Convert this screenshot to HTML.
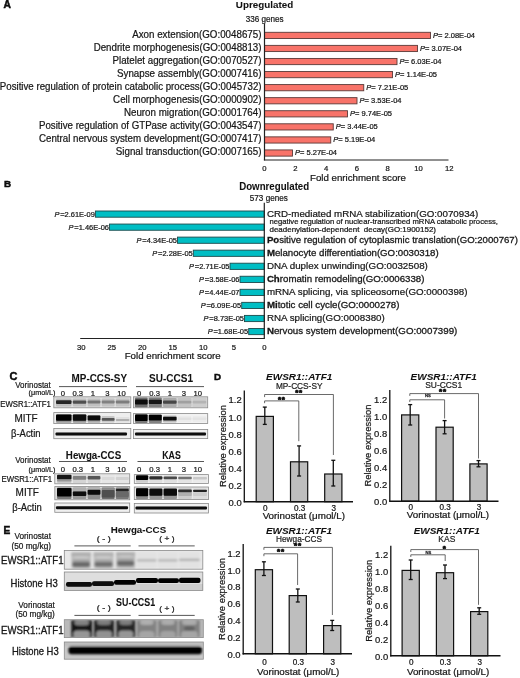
<!DOCTYPE html>
<html><head><meta charset="utf-8"><style>
html,body{margin:0;padding:0;background:#fff;}
svg{display:block;font-family:"Liberation Sans",Arial,sans-serif;}
text{stroke:#222;stroke-width:0.22px;}
text[font-weight="bold"]{stroke-width:0.05px;}
text.hv{stroke-width:0.3px;}
text.ns{stroke-width:0.3px;}
text.pl{stroke-width:0.45px;stroke:#000;}
text.ast{stroke-width:0.7px;stroke:#111;letter-spacing:0.8px;}
</style></head><body>
<svg width="520" height="678" viewBox="0 0 520 678" fill="#111">
<defs><filter id="b55" x="-20%" y="-50%" width="140%" height="200%"><feGaussianBlur stdDeviation="0.55"/></filter><filter id="b70" x="-20%" y="-50%" width="140%" height="200%"><feGaussianBlur stdDeviation="0.7"/></filter><filter id="b80" x="-20%" y="-50%" width="140%" height="200%"><feGaussianBlur stdDeviation="0.8"/></filter><filter id="b110" x="-20%" y="-50%" width="140%" height="200%"><feGaussianBlur stdDeviation="1.1"/></filter></defs>
<text x="3.6" y="7.6" font-size="10.27" font-weight="bold" class="pl">A</text>
<text x="264.5" y="7.9" font-size="9.2" text-anchor="middle" font-weight="bold" textLength="57.3" lengthAdjust="spacingAndGlyphs">Upregulated</text>
<text x="264.6" y="21.7" font-size="8.88" text-anchor="middle" textLength="37.9" lengthAdjust="spacingAndGlyphs">336 genes</text>
<rect x="264.5" y="32.3" width="166.0" height="6.2" fill="#F87369" stroke="#5a3a38" stroke-width="0.9"/>
<text x="261.5" y="37.8" font-size="10.17" text-anchor="end" textLength="129.3" lengthAdjust="spacingAndGlyphs">Axon extension(GO:0048675)</text>
<text x="433.0" y="37.7" font-size="7.3" textLength="42" lengthAdjust="spacingAndGlyphs"><tspan font-style="italic">P</tspan>= 2.08E-04</text>
<rect x="264.5" y="45.37" width="153.0" height="6.2" fill="#F87369" stroke="#5a3a38" stroke-width="0.9"/>
<text x="261.5" y="50.87" font-size="10.17" text-anchor="end" textLength="167.8" lengthAdjust="spacingAndGlyphs">Dendrite morphogenesis(GO:0048813)</text>
<text x="420.0" y="50.8" font-size="7.3" textLength="42" lengthAdjust="spacingAndGlyphs"><tspan font-style="italic">P</tspan>= 3.07E-04</text>
<rect x="264.5" y="58.44" width="132.5" height="6.2" fill="#F87369" stroke="#5a3a38" stroke-width="0.9"/>
<text x="261.5" y="63.94" font-size="10.17" text-anchor="end" textLength="149.0" lengthAdjust="spacingAndGlyphs">Platelet aggregation(GO:0070527)</text>
<text x="399.5" y="63.8" font-size="7.3" textLength="42" lengthAdjust="spacingAndGlyphs"><tspan font-style="italic">P</tspan>= 6.03E-04</text>
<rect x="264.5" y="71.50999999999999" width="128.0" height="6.2" fill="#F87369" stroke="#5a3a38" stroke-width="0.9"/>
<text x="261.5" y="77.01" font-size="10.17" text-anchor="end" textLength="144.5" lengthAdjust="spacingAndGlyphs">Synapse assembly(GO:0007416)</text>
<text x="395.0" y="76.9" font-size="7.3" textLength="42" lengthAdjust="spacingAndGlyphs"><tspan font-style="italic">P</tspan>= 1.14E-05</text>
<rect x="264.5" y="84.58" width="99.25" height="6.2" fill="#F87369" stroke="#5a3a38" stroke-width="0.9"/>
<text x="261.5" y="90.08" font-size="10.17" text-anchor="end" textLength="261.7" lengthAdjust="spacingAndGlyphs">Positive regulation of protein catabolic process(GO:0045732)</text>
<text x="366.25" y="90.0" font-size="7.3" textLength="42" lengthAdjust="spacingAndGlyphs"><tspan font-style="italic">P</tspan>= 7.21E-05</text>
<rect x="264.5" y="97.64999999999999" width="92.5" height="6.2" fill="#F87369" stroke="#5a3a38" stroke-width="0.9"/>
<text x="261.5" y="103.15" font-size="10.17" text-anchor="end" textLength="148.4" lengthAdjust="spacingAndGlyphs">Cell morphogenesis(GO:0000902)</text>
<text x="359.5" y="103.0" font-size="7.3" textLength="42" lengthAdjust="spacingAndGlyphs"><tspan font-style="italic">P</tspan>= 3.53E-04</text>
<rect x="264.5" y="110.72" width="83.0" height="6.2" fill="#F87369" stroke="#5a3a38" stroke-width="0.9"/>
<text x="261.5" y="116.22" font-size="10.17" text-anchor="end" textLength="137.6" lengthAdjust="spacingAndGlyphs">Neuron migration(GO:0001764)</text>
<text x="350.0" y="116.1" font-size="7.3" textLength="42" lengthAdjust="spacingAndGlyphs"><tspan font-style="italic">P</tspan>= 9.74E-05</text>
<rect x="264.5" y="123.79" width="68.75" height="6.2" fill="#F87369" stroke="#5a3a38" stroke-width="0.9"/>
<text x="261.5" y="129.29" font-size="10.17" text-anchor="end" textLength="222.5" lengthAdjust="spacingAndGlyphs">Positive regulation of GTPase activity(GO:0043547)</text>
<text x="335.75" y="129.2" font-size="7.3" textLength="42" lengthAdjust="spacingAndGlyphs"><tspan font-style="italic">P</tspan>= 3.44E-05</text>
<rect x="264.5" y="136.86" width="66.25" height="6.2" fill="#F87369" stroke="#5a3a38" stroke-width="0.9"/>
<text x="261.5" y="142.36" font-size="10.17" text-anchor="end" textLength="222.5" lengthAdjust="spacingAndGlyphs">Central nervous system development(GO:0007417)</text>
<text x="333.25" y="142.3" font-size="7.3" textLength="42" lengthAdjust="spacingAndGlyphs"><tspan font-style="italic">P</tspan>= 5.19E-04</text>
<rect x="264.5" y="149.93" width="28.0" height="6.2" fill="#F87369" stroke="#5a3a38" stroke-width="0.9"/>
<text x="261.5" y="155.43" font-size="10.17" text-anchor="end" textLength="145.7" lengthAdjust="spacingAndGlyphs">Signal transduction(GO:0007165)</text>
<text x="295.0" y="155.3" font-size="7.3" textLength="42" lengthAdjust="spacingAndGlyphs"><tspan font-style="italic">P</tspan>= 5.27E-04</text>
<line x1="264.5" y1="23.5" x2="264.5" y2="160.4" stroke="#222" stroke-width="1.2"/>
<line x1="263.9" y1="160" x2="448.5" y2="160" stroke="#222" stroke-width="1.2"/>
<text x="264.5" y="171.3" font-size="7.7" text-anchor="middle">0</text>
<text x="295.3" y="171.3" font-size="7.7" text-anchor="middle">2</text>
<text x="326.1" y="171.3" font-size="7.7" text-anchor="middle">4</text>
<text x="356.9" y="171.3" font-size="7.7" text-anchor="middle">6</text>
<text x="387.7" y="171.3" font-size="7.7" text-anchor="middle">8</text>
<text x="418.5" y="171.3" font-size="7.7" text-anchor="middle">10</text>
<text x="449.3" y="171.3" font-size="7.7" text-anchor="middle">12</text>
<text x="358" y="181.1" font-size="9.63" text-anchor="middle" textLength="96" lengthAdjust="spacingAndGlyphs">Fold enrichment score</text>
<text x="4.0" y="187.0" font-size="9.84" font-weight="bold" class="pl">B</text>
<text x="274.2" y="190.1" font-size="10.17" text-anchor="middle" font-weight="bold" textLength="70" lengthAdjust="spacingAndGlyphs">Downregulated</text>
<text x="268.8" y="201.1" font-size="8.88" text-anchor="middle" textLength="37.9" lengthAdjust="spacingAndGlyphs">573 genes</text>
<rect x="95.4" y="211.0" width="168.9" height="6.2" fill="#00BEC4" stroke="#1c4a4c" stroke-width="0.9"/>
<text x="94.9" y="216.8" font-size="7.3" text-anchor="end" textLength="40.5" lengthAdjust="spacingAndGlyphs"><tspan font-style="italic">P</tspan><tspan dx="0.8">=2.61E-09</tspan></text>
<rect x="109.5" y="224.05" width="154.8" height="6.2" fill="#00BEC4" stroke="#1c4a4c" stroke-width="0.9"/>
<text x="109.0" y="229.9" font-size="7.3" text-anchor="end" textLength="40.5" lengthAdjust="spacingAndGlyphs"><tspan font-style="italic">P</tspan><tspan dx="0.8">=1.46E-06</tspan></text>
<rect x="177.5" y="237.1" width="86.80000000000001" height="6.2" fill="#00BEC4" stroke="#1c4a4c" stroke-width="0.9"/>
<text x="177.0" y="242.9" font-size="7.3" text-anchor="end" textLength="40.5" lengthAdjust="spacingAndGlyphs"><tspan font-style="italic">P</tspan><tspan dx="0.8">=4.34E-05</tspan></text>
<rect x="193.3" y="250.15" width="71.0" height="6.2" fill="#00BEC4" stroke="#1c4a4c" stroke-width="0.9"/>
<text x="192.8" y="256.0" font-size="7.3" text-anchor="end" textLength="40.5" lengthAdjust="spacingAndGlyphs"><tspan font-style="italic">P</tspan><tspan dx="0.8">=2.28E-05</tspan></text>
<rect x="230" y="263.2" width="34.30000000000001" height="6.2" fill="#00BEC4" stroke="#1c4a4c" stroke-width="0.9"/>
<text x="229.5" y="269.0" font-size="7.3" text-anchor="end" textLength="40.5" lengthAdjust="spacingAndGlyphs"><tspan font-style="italic">P</tspan><tspan dx="0.8">=2.71E-05</tspan></text>
<rect x="240" y="276.25" width="24.30000000000001" height="6.2" fill="#00BEC4" stroke="#1c4a4c" stroke-width="0.9"/>
<text x="239.5" y="282.1" font-size="7.3" text-anchor="end" textLength="40.5" lengthAdjust="spacingAndGlyphs"><tspan font-style="italic">P</tspan><tspan dx="0.8">=3.58E-06</tspan></text>
<rect x="240" y="289.3" width="24.30000000000001" height="6.2" fill="#00BEC4" stroke="#1c4a4c" stroke-width="0.9"/>
<text x="239.5" y="295.1" font-size="7.3" text-anchor="end" textLength="40.5" lengthAdjust="spacingAndGlyphs"><tspan font-style="italic">P</tspan><tspan dx="0.8">=4.44E-07</tspan></text>
<rect x="241.7" y="302.35" width="22.600000000000023" height="6.2" fill="#00BEC4" stroke="#1c4a4c" stroke-width="0.9"/>
<text x="241.2" y="308.2" font-size="7.3" text-anchor="end" textLength="40.5" lengthAdjust="spacingAndGlyphs"><tspan font-style="italic">P</tspan><tspan dx="0.8">=6.09E-05</tspan></text>
<rect x="244.5" y="315.4" width="19.80000000000001" height="6.2" fill="#00BEC4" stroke="#1c4a4c" stroke-width="0.9"/>
<text x="244.0" y="321.2" font-size="7.3" text-anchor="end" textLength="40.5" lengthAdjust="spacingAndGlyphs"><tspan font-style="italic">P</tspan><tspan dx="0.8">=8.73E-05</tspan></text>
<rect x="248.7" y="328.45" width="15.600000000000023" height="6.2" fill="#00BEC4" stroke="#1c4a4c" stroke-width="0.9"/>
<text x="248.2" y="334.2" font-size="7.3" text-anchor="end" textLength="40.5" lengthAdjust="spacingAndGlyphs"><tspan font-style="italic">P</tspan><tspan dx="0.8">=1.68E-05</tspan></text>
<text x="266.9" y="217.2" font-size="9.9" textLength="211.4" lengthAdjust="spacingAndGlyphs"><tspan>CRD-mediated mRNA stabilization(GO:0070934)</tspan></text>
<text x="266.9" y="243.2" font-size="9.9" class="hv" textLength="251" lengthAdjust="spacingAndGlyphs"><tspan font-weight="bold">Po</tspan>sitive regulation of cytoplasmic translation(GO:2000767)</text>
<text x="266.9" y="256.2" font-size="9.9" class="hv" textLength="171.8" lengthAdjust="spacingAndGlyphs"><tspan font-weight="bold">M</tspan>elanocyte differentiation(GO:0030318)</text>
<text x="266.9" y="269.2" font-size="9.9" textLength="161" lengthAdjust="spacingAndGlyphs">DNA duplex unwinding(GO:0032508)</text>
<text x="266.9" y="282.2" font-size="9.9" class="hv" textLength="157.5" lengthAdjust="spacingAndGlyphs"><tspan font-weight="bold">Ch</tspan>romatin remodeling(GO:0006338)</text>
<text x="266.9" y="295.2" font-size="9.9" textLength="200.6" lengthAdjust="spacingAndGlyphs">mRNA splicing, via spliceosome(GO:0000398)</text>
<text x="266.9" y="308.2" font-size="9.9" class="hv" textLength="132.5" lengthAdjust="spacingAndGlyphs"><tspan font-weight="bold">Mi</tspan>totic cell cycle(GO:0000278)</text>
<text x="266.9" y="321.2" font-size="9.9" textLength="117.9" lengthAdjust="spacingAndGlyphs">RNA splicing(GO:0008380)</text>
<text x="266.9" y="334.2" font-size="9.9" class="hv" textLength="190.4" lengthAdjust="spacingAndGlyphs"><tspan font-weight="bold">N</tspan>ervous system development(GO:0007399)</text>
<text x="269.5" y="224.4" font-size="7.49" textLength="228.5" lengthAdjust="spacingAndGlyphs">negative regulation of nuclear-transcribed mRNA catabolic process,</text>
<text x="269.5" y="231.6" font-size="7.49" textLength="166.5" lengthAdjust="spacingAndGlyphs">deadenylation-dependent&#160; decay(GO:1900152)</text>
<line x1="264.3" y1="202.8" x2="264.3" y2="338.5" stroke="#222" stroke-width="1.2"/>
<line x1="80.2" y1="338.5" x2="264.90000000000003" y2="338.5" stroke="#222" stroke-width="1.2"/>
<text x="81.3" y="349.7" font-size="7.7" text-anchor="middle">30</text>
<text x="111.8" y="349.7" font-size="7.7" text-anchor="middle">25</text>
<text x="142.3" y="349.7" font-size="7.7" text-anchor="middle">20</text>
<text x="172.8" y="349.7" font-size="7.7" text-anchor="middle">15</text>
<text x="203.3" y="349.7" font-size="7.7" text-anchor="middle">10</text>
<text x="233.8" y="349.7" font-size="7.7" text-anchor="middle">5</text>
<text x="264.3" y="349.7" font-size="7.7" text-anchor="middle">0</text>
<text x="172.7" y="358.6" font-size="9.63" text-anchor="middle" textLength="96" lengthAdjust="spacingAndGlyphs">Fold enrichment score</text>
<text x="9.6" y="379.6" font-size="11.02" font-weight="bold" class="pl">C</text>
<text x="15.2" y="387.7" font-size="9.63" textLength="35.6" lengthAdjust="spacingAndGlyphs">Vorinostat</text>
<text x="28.6" y="395.3" font-size="7.49" textLength="26.8" lengthAdjust="spacingAndGlyphs">(&#956;mol/L)</text>
<text x="15.2" y="462.7" font-size="9.63" textLength="35.6" lengthAdjust="spacingAndGlyphs">Vorinostat</text>
<text x="28.6" y="471.7" font-size="7.49" textLength="26.8" lengthAdjust="spacingAndGlyphs">(&#956;mol/L)</text>
<text x="62.8" y="395.9" font-size="7.7" text-anchor="middle">0</text>
<text x="77.8" y="395.9" font-size="7.7" text-anchor="middle">0.3</text>
<text x="93" y="395.9" font-size="7.7" text-anchor="middle">1</text>
<text x="107.3" y="395.9" font-size="7.7" text-anchor="middle">3</text>
<text x="121.5" y="395.9" font-size="7.7" text-anchor="middle">10</text>
<text x="139.2" y="395.9" font-size="7.7" text-anchor="middle">0</text>
<text x="154.6" y="395.9" font-size="7.7" text-anchor="middle">0.3</text>
<text x="170" y="395.9" font-size="7.7" text-anchor="middle">1</text>
<text x="183.8" y="395.9" font-size="7.7" text-anchor="middle">3</text>
<text x="197.7" y="395.9" font-size="7.7" text-anchor="middle">10</text>
<text x="62.8" y="472.1" font-size="7.7" text-anchor="middle">0</text>
<text x="77.8" y="472.1" font-size="7.7" text-anchor="middle">0.3</text>
<text x="93" y="472.1" font-size="7.7" text-anchor="middle">1</text>
<text x="107.3" y="472.1" font-size="7.7" text-anchor="middle">3</text>
<text x="121.5" y="472.1" font-size="7.7" text-anchor="middle">10</text>
<text x="139.2" y="472.1" font-size="7.7" text-anchor="middle">0</text>
<text x="154.6" y="472.1" font-size="7.7" text-anchor="middle">0.3</text>
<text x="170" y="472.1" font-size="7.7" text-anchor="middle">1</text>
<text x="183.8" y="472.1" font-size="7.7" text-anchor="middle">3</text>
<text x="197.7" y="472.1" font-size="7.7" text-anchor="middle">10</text>
<text x="99.3" y="382.2" font-size="10.06" text-anchor="middle" font-weight="bold" textLength="55.4" lengthAdjust="spacingAndGlyphs">MP-CCS-SY</text>
<text x="171" y="382.2" font-size="10.06" text-anchor="middle" font-weight="bold" textLength="44" lengthAdjust="spacingAndGlyphs">SU-CCS1</text>
<line x1="59" y1="386.6" x2="127" y2="386.6" stroke="#444" stroke-width="0.9"/>
<line x1="136" y1="386.6" x2="204" y2="386.6" stroke="#444" stroke-width="0.9"/>
<text x="93.5" y="458.7" font-size="10.06" text-anchor="middle" font-weight="bold" textLength="55.3" lengthAdjust="spacingAndGlyphs">Hewga-CCS</text>
<text x="171.5" y="458.7" font-size="10.06" text-anchor="middle" font-weight="bold" textLength="18.5" lengthAdjust="spacingAndGlyphs">KAS</text>
<line x1="59" y1="461.5" x2="127" y2="461.5" stroke="#444" stroke-width="0.9"/>
<line x1="137.5" y1="461.5" x2="204" y2="461.5" stroke="#444" stroke-width="0.9"/>
<text x="0.3" y="406.7" font-size="8.56" textLength="50.5" lengthAdjust="spacingAndGlyphs">EWSR1::ATF1</text>
<text x="14.4" y="421.7" font-size="11.24" textLength="23.3" lengthAdjust="spacingAndGlyphs">MITF</text>
<text x="11" y="436.7" font-size="10.7" textLength="29.6" lengthAdjust="spacingAndGlyphs">&#946;-Actin</text>
<text x="1.5" y="482.0" font-size="8.56" textLength="50.5" lengthAdjust="spacingAndGlyphs">EWSR1::ATF1</text>
<text x="15.6" y="496.2" font-size="11.24" textLength="23.3" lengthAdjust="spacingAndGlyphs">MITF</text>
<text x="12.2" y="511.2" font-size="10.7" textLength="29.6" lengthAdjust="spacingAndGlyphs">&#946;-Actin</text>
<clipPath id="c1"><rect x="53.8" y="396.8" width="77.0" height="11.0"/></clipPath>
<g clip-path="url(#c1)"><rect x="53.8" y="396.8" width="77.0" height="11.0" fill="#dedede"/>
<g filter="url(#b55)">
<rect x="56.0" y="398.5" width="15.5" height="8.0" rx="1" fill="#bebebe"/>
<rect x="56.0" y="400.2" width="15.5" height="3.8" rx="1" fill="#282828"/>
<rect x="72.8" y="398.5" width="13.5" height="8.0" rx="1" fill="#c0c0c0"/>
<rect x="72.8" y="400.4" width="13.5" height="3.4" rx="1" fill="#505050"/>
<rect x="87.6" y="398.5" width="12.8" height="8.0" rx="1" fill="#c0c0c0"/>
<rect x="87.6" y="400.5" width="12.8" height="3.1" rx="1" fill="#767676"/>
<rect x="101.7" y="398.5" width="12.9" height="8.0" rx="1" fill="#c2c2c2"/>
<rect x="101.7" y="400.5" width="12.9" height="3.1" rx="1" fill="#828282"/>
<rect x="115.8" y="398.5" width="13.7" height="8.0" rx="1" fill="#c2c2c2"/>
<rect x="115.8" y="400.5" width="13.7" height="3.1" rx="1" fill="#7d7d7d"/>
</g></g>
<rect x="53.8" y="396.8" width="77.0" height="11.0" fill="none" stroke="#888" stroke-width="0.8"/>
<clipPath id="c2"><rect x="53.8" y="412.6" width="77.0" height="11.0"/></clipPath>
<g clip-path="url(#c2)"><rect x="53.8" y="412.6" width="77.0" height="11.0" fill="#eeeeee"/>
<g filter="url(#b55)">
<rect x="56.0" y="414.3" width="15.5" height="8.5" rx="1" fill="#969696"/>
<rect x="56.0" y="414.6" width="15.5" height="6.2" rx="1" fill="#050505"/>
<rect x="72.8" y="414.3" width="13.5" height="8.5" rx="1" fill="#969696"/>
<rect x="72.8" y="414.6" width="13.5" height="6.2" rx="1" fill="#080808"/>
<rect x="87.6" y="415.0" width="12.8" height="7.8" rx="1" fill="#aaaaaa"/>
<rect x="87.6" y="415.5" width="12.8" height="5.1" rx="1" fill="#0f0f0f"/>
<rect x="101.7" y="416.0" width="12.9" height="6.5" rx="1" fill="#c8c8c8"/>
<rect x="101.7" y="418.0" width="12.9" height="2.8" rx="1" fill="#555555"/>
<rect x="115.8" y="417.0" width="13.7" height="5.5" rx="1" fill="#e1e1e1"/>
<rect x="115.8" y="419.0" width="13.7" height="2.0" rx="1" fill="#afafaf"/>
</g></g>
<rect x="53.8" y="412.6" width="77.0" height="11.0" fill="none" stroke="#888" stroke-width="0.8"/>
<clipPath id="c3"><rect x="53.8" y="428.5" width="77.0" height="10.2"/></clipPath>
<g clip-path="url(#c3)"><rect x="53.8" y="428.5" width="77.0" height="10.2" fill="#eeeeee"/>
<g filter="url(#b55)">
<rect x="55.5" y="432.4" width="71.5" height="3.2" rx="1" fill="#0c0c0c"/>
</g></g>
<rect x="53.8" y="428.5" width="77.0" height="10.2" fill="none" stroke="#888" stroke-width="0.8"/>
<clipPath id="c4"><rect x="133.4" y="396.8" width="74.3" height="11.0"/></clipPath>
<g clip-path="url(#c4)"><rect x="133.4" y="396.8" width="74.3" height="11.0" fill="#d7d7d7"/>
<g filter="url(#b55)">
<rect x="135.0" y="397.5" width="12.6" height="10.0" rx="1" fill="#6e6e6e"/>
<rect x="135.0" y="399.6" width="12.6" height="4.8" rx="1" fill="#0a0a0a"/>
<rect x="148.8" y="397.5" width="13.0" height="10.0" rx="1" fill="#7d7d7d"/>
<rect x="148.8" y="399.8" width="13.0" height="4.2" rx="1" fill="#141414"/>
<rect x="163.0" y="398.0" width="13.6" height="9.0" rx="1" fill="#aaaaaa"/>
<rect x="163.0" y="400.6" width="13.6" height="3.2" rx="1" fill="#464646"/>
<rect x="177.8" y="398.0" width="13.6" height="9.0" rx="1" fill="#c3c3c3"/>
<rect x="177.8" y="400.8" width="13.6" height="2.8" rx="1" fill="#a0a0a0"/>
<rect x="192.6" y="398.0" width="13.7" height="9.0" rx="1" fill="#cdcdcd"/>
<rect x="192.6" y="400.8" width="13.7" height="2.8" rx="1" fill="#b4b4b4"/>
</g></g>
<rect x="133.4" y="396.8" width="74.3" height="11.0" fill="none" stroke="#888" stroke-width="0.8"/>
<clipPath id="c5"><rect x="133.4" y="413.6" width="74.3" height="9.8"/></clipPath>
<g clip-path="url(#c5)"><rect x="133.4" y="413.6" width="74.3" height="9.8" fill="#f2f2f2"/>
<g filter="url(#b55)">
<rect x="135.0" y="414.2" width="12.6" height="8.8" rx="1" fill="#787878"/>
<rect x="135.0" y="414.4" width="12.6" height="6.6" rx="1" fill="#030303"/>
<rect x="148.8" y="414.4" width="13.0" height="8.6" rx="1" fill="#828282"/>
<rect x="148.8" y="414.8" width="13.0" height="5.7" rx="1" fill="#060606"/>
<rect x="163.0" y="415.5" width="13.6" height="7.0" rx="1" fill="#bebebe"/>
<rect x="163.0" y="416.8" width="13.6" height="3.8" rx="1" fill="#0c0c0c"/>
<rect x="177.8" y="416.0" width="13.6" height="6.0" rx="1" fill="#ececec"/>
<rect x="177.8" y="417.5" width="13.6" height="2.5" rx="1" fill="#e1e1e1"/>
<rect x="192.6" y="416.0" width="13.7" height="6.0" rx="1" fill="#ececec"/>
<rect x="192.6" y="417.5" width="13.7" height="2.5" rx="1" fill="#e4e4e4"/>
</g></g>
<rect x="133.4" y="413.6" width="74.3" height="9.8" fill="none" stroke="#888" stroke-width="0.8"/>
<clipPath id="c6"><rect x="133.4" y="429.4" width="74.3" height="9.2"/></clipPath>
<g clip-path="url(#c6)"><rect x="133.4" y="429.4" width="74.3" height="9.2" fill="#f0f0f0"/>
<g filter="url(#b55)">
<rect x="135.0" y="432.4" width="71.0" height="3.2" rx="1" fill="#0a0a0a"/>
</g></g>
<rect x="133.4" y="429.4" width="74.3" height="9.2" fill="none" stroke="#888" stroke-width="0.8"/>
<clipPath id="c7"><rect x="54.8" y="473.8" width="74.9" height="10.0"/></clipPath>
<g clip-path="url(#c7)"><rect x="54.8" y="473.8" width="74.9" height="10.0" fill="#ececec"/>
<g filter="url(#b55)">
<rect x="57.0" y="474.5" width="14.5" height="8.5" rx="1" fill="#c8c8c8"/>
<rect x="57.0" y="474.8" width="14.5" height="4.6" rx="1" fill="#141414"/>
<rect x="57.0" y="479.4" width="14.5" height="2.1" rx="1" fill="#969696"/>
<rect x="72.8" y="474.5" width="13.5" height="8.5" rx="1" fill="#d4d4d4"/>
<rect x="72.8" y="476.0" width="13.5" height="3.8" rx="1" fill="#808080"/>
<rect x="87.6" y="474.5" width="12.8" height="8.5" rx="1" fill="#d4d4d4"/>
<rect x="87.6" y="476.0" width="12.8" height="3.4" rx="1" fill="#555555"/>
<rect x="101.7" y="474.5" width="12.9" height="8.5" rx="1" fill="#e6e6e6"/>
<rect x="101.7" y="477.0" width="12.9" height="3.0" rx="1" fill="#dadada"/>
<rect x="115.8" y="474.5" width="13.0" height="8.5" rx="1" fill="#e6e6e6"/>
<rect x="115.8" y="477.0" width="13.0" height="3.0" rx="1" fill="#d2d2d2"/>
</g></g>
<rect x="54.8" y="473.8" width="74.9" height="10.0" fill="none" stroke="#888" stroke-width="0.8"/>
<clipPath id="c8"><rect x="54.8" y="486.6" width="74.9" height="13.2"/></clipPath>
<g clip-path="url(#c8)"><rect x="54.8" y="486.6" width="74.9" height="13.2" fill="#dadada"/>
<g filter="url(#b70)">
<rect x="57.0" y="487.5" width="14.5" height="11.5" rx="1" fill="#787878"/>
<rect x="57.0" y="488.0" width="14.5" height="8.5" rx="1" fill="#050505"/>
<rect x="72.8" y="487.5" width="13.5" height="11.5" rx="1" fill="#969696"/>
<rect x="72.8" y="488.0" width="13.5" height="3.0" rx="1" fill="#afafaf"/>
<rect x="72.8" y="491.5" width="13.5" height="4.5" rx="1" fill="#0c0c0c"/>
<rect x="87.6" y="487.5" width="12.8" height="11.5" rx="1" fill="#8c8c8c"/>
<rect x="87.6" y="488.0" width="12.8" height="2.0" rx="1" fill="#b4b4b4"/>
<rect x="87.6" y="489.8" width="12.8" height="5.0" rx="1" fill="#0a0a0a"/>
<rect x="101.7" y="487.5" width="12.9" height="11.5" rx="1" fill="#6e6e6e"/>
<rect x="101.7" y="488.0" width="12.9" height="2.0" rx="1" fill="#8c8c8c"/>
<rect x="101.7" y="490.0" width="12.9" height="7.5" rx="1" fill="#505050"/>
<rect x="115.8" y="487.5" width="13.0" height="11.5" rx="1" fill="#787878"/>
<rect x="115.8" y="489.0" width="13.0" height="2.2" rx="1" fill="#232323"/>
<rect x="115.8" y="492.0" width="13.0" height="5.0" rx="1" fill="#696969"/>
</g></g>
<rect x="54.8" y="486.6" width="74.9" height="13.2" fill="none" stroke="#888" stroke-width="0.8"/>
<clipPath id="c9"><rect x="54.8" y="503" width="74.9" height="9.3"/></clipPath>
<g clip-path="url(#c9)"><rect x="54.8" y="503" width="74.9" height="9.3" fill="#f0f0f0"/>
<g filter="url(#b55)">
<rect x="56.0" y="506.2" width="72.0" height="3.0" rx="1" fill="#0c0c0c"/>
</g></g>
<rect x="54.8" y="503" width="74.9" height="9.3" fill="none" stroke="#888" stroke-width="0.8"/>
<clipPath id="c10"><rect x="134.3" y="474.6" width="74.2" height="8.8"/></clipPath>
<g clip-path="url(#c10)"><rect x="134.3" y="474.6" width="74.2" height="8.8" fill="#f0f0f0"/>
<g filter="url(#b55)">
<rect x="136.0" y="475.2" width="12.2" height="7.6" rx="1" fill="#cdcdcd"/>
<rect x="136.0" y="475.2" width="12.2" height="4.8" rx="1" fill="#050505"/>
<rect x="149.4" y="475.2" width="13.0" height="7.6" rx="1" fill="#dedede"/>
<rect x="149.4" y="476.2" width="13.0" height="3.2" rx="1" fill="#2d2d2d"/>
<rect x="163.6" y="475.2" width="13.4" height="7.6" rx="1" fill="#e0e0e0"/>
<rect x="163.6" y="476.4" width="13.4" height="2.8" rx="1" fill="#4b4b4b"/>
<rect x="178.2" y="475.2" width="13.6" height="7.6" rx="1" fill="#e4e4e4"/>
<rect x="178.2" y="476.8" width="13.6" height="2.4" rx="1" fill="#737373"/>
<rect x="193.0" y="475.2" width="14.0" height="7.6" rx="1" fill="#eaeaea"/>
<rect x="193.0" y="477.0" width="14.0" height="2.4" rx="1" fill="#c8c8c8"/>
</g></g>
<rect x="134.3" y="474.6" width="74.2" height="8.8" fill="none" stroke="#888" stroke-width="0.8"/>
<clipPath id="c11"><rect x="134.3" y="487" width="74.2" height="12.6"/></clipPath>
<g clip-path="url(#c11)"><rect x="134.3" y="487" width="74.2" height="12.6" fill="#e8e8e8"/>
<g filter="url(#b70)">
<rect x="136.0" y="488.0" width="12.2" height="11.0" rx="1" fill="#8c8c8c"/>
<rect x="136.0" y="488.3" width="12.2" height="7.9" rx="1" fill="#050505"/>
<rect x="149.4" y="488.0" width="13.0" height="11.0" rx="1" fill="#969696"/>
<rect x="149.4" y="488.8" width="13.0" height="7.0" rx="1" fill="#0a0a0a"/>
<rect x="163.6" y="488.0" width="13.4" height="11.0" rx="1" fill="#969696"/>
<rect x="163.6" y="488.8" width="13.4" height="7.0" rx="1" fill="#080808"/>
<rect x="178.2" y="488.0" width="13.6" height="11.0" rx="1" fill="#cdcdcd"/>
<rect x="178.2" y="489.6" width="13.6" height="2.8" rx="1" fill="#2d2d2d"/>
<rect x="178.2" y="492.4" width="13.6" height="3.6" rx="1" fill="#afafaf"/>
<rect x="193.0" y="488.0" width="14.0" height="11.0" rx="1" fill="#dedede"/>
<rect x="193.0" y="489.8" width="14.0" height="2.2" rx="1" fill="#232323"/>
<rect x="193.0" y="492.2" width="14.0" height="3.8" rx="1" fill="#cdcdcd"/>
</g></g>
<rect x="134.3" y="487" width="74.2" height="12.6" fill="none" stroke="#888" stroke-width="0.8"/>
<clipPath id="c12"><rect x="134.3" y="503.5" width="74.2" height="9.5"/></clipPath>
<g clip-path="url(#c12)"><rect x="134.3" y="503.5" width="74.2" height="9.5" fill="#f0f0f0"/>
<g filter="url(#b55)">
<rect x="135.5" y="506.4" width="71.5" height="3.0" rx="1" fill="#0a0a0a"/>
</g></g>
<rect x="134.3" y="503.5" width="74.2" height="9.5" fill="none" stroke="#888" stroke-width="0.8"/>
<text x="3.6" y="533.7" font-size="10.17" font-weight="bold" class="pl">E</text>
<text x="14.4" y="539.1" font-size="9.63" textLength="36.6" lengthAdjust="spacingAndGlyphs">Vorinostat</text>
<text x="11.5" y="549.2" font-size="8.77" textLength="39.5" lengthAdjust="spacingAndGlyphs">(50 mg/kg)</text>
<text x="18.3" y="607.5" font-size="9.63" textLength="36.5" lengthAdjust="spacingAndGlyphs">Vorinostat</text>
<text x="15.4" y="617.1" font-size="8.77" textLength="39.4" lengthAdjust="spacingAndGlyphs">(50 mg/kg)</text>
<text x="138.5" y="532.5" font-size="9.84" text-anchor="middle" font-weight="bold" textLength="55.4" lengthAdjust="spacingAndGlyphs">Hewga-CCS</text>
<text x="135.6" y="606.1" font-size="10.06" text-anchor="middle" font-weight="bold" textLength="39" lengthAdjust="spacingAndGlyphs">SU-CCS1</text>
<text x="103.8" y="541.0" font-size="7.49" text-anchor="middle" textLength="14" lengthAdjust="spacingAndGlyphs">( - )</text>
<text x="166.9" y="541.0" font-size="7.49" text-anchor="middle" textLength="15.2" lengthAdjust="spacingAndGlyphs">( + )</text>
<text x="103.8" y="609.9" font-size="7.49" text-anchor="middle" textLength="14" lengthAdjust="spacingAndGlyphs">( - )</text>
<text x="166.9" y="610.5" font-size="7.49" text-anchor="middle" textLength="15.2" lengthAdjust="spacingAndGlyphs">( + )</text>
<line x1="74.4" y1="545.9" x2="130.7" y2="545.9" stroke="#444" stroke-width="0.9"/>
<line x1="138.5" y1="545.9" x2="194.7" y2="545.9" stroke="#444" stroke-width="0.9"/>
<line x1="74.4" y1="615.4" x2="130.7" y2="615.4" stroke="#444" stroke-width="0.9"/>
<line x1="138.5" y1="615.4" x2="194.7" y2="615.4" stroke="#444" stroke-width="0.9"/>
<text x="1" y="564.3" font-size="10.27" textLength="62.5" lengthAdjust="spacingAndGlyphs" class="hv">EWSR1::ATF1</text>
<text x="10.6" y="586.5" font-size="10.27" textLength="47.1" lengthAdjust="spacingAndGlyphs" class="hv">Histone H3</text>
<text x="1" y="633.7" font-size="10.27" textLength="62.5" lengthAdjust="spacingAndGlyphs" class="hv">EWSR1::ATF1</text>
<text x="12" y="654.9" font-size="10.27" textLength="46.7" lengthAdjust="spacingAndGlyphs" class="hv">Histone H3</text>
<clipPath id="c13"><rect x="64.3" y="550.5" width="138.5" height="18.7"/></clipPath>
<g clip-path="url(#c13)"><rect x="64.3" y="550.5" width="138.5" height="18.7" fill="#e8e8e8"/>
<g filter="url(#b80)">
<rect x="71.3" y="552.0" width="19.7" height="16.5" rx="1" fill="#bebebe"/>
<rect x="71.3" y="553.0" width="19.7" height="3.0" rx="1" fill="#afafaf"/>
<rect x="74.3" y="556.0" width="13.7" height="4.0" rx="3" fill="#c8c8c8"/>
<rect x="72.3" y="559.0" width="17.7" height="9.0" rx="3" fill="#a5a5a5"/>
<rect x="72.3" y="562.0" width="17.7" height="4.8" rx="2" fill="#696969"/>
<rect x="93.5" y="552.0" width="20.1" height="16.5" rx="1" fill="#c0c0c0"/>
<rect x="93.5" y="553.0" width="20.1" height="3.0" rx="1" fill="#b2b2b2"/>
<rect x="96.5" y="556.0" width="14.1" height="4.0" rx="3" fill="#cacaca"/>
<rect x="94.5" y="559.0" width="18.1" height="9.0" rx="3" fill="#a8a8a8"/>
<rect x="94.5" y="562.0" width="18.1" height="4.4" rx="2" fill="#707070"/>
<rect x="116.0" y="552.0" width="19.2" height="16.5" rx="1" fill="#bebebe"/>
<rect x="116.0" y="552.5" width="19.2" height="3.0" rx="1" fill="#afafaf"/>
<rect x="119.0" y="555.5" width="13.2" height="4.0" rx="3" fill="#c8c8c8"/>
<rect x="117.0" y="558.0" width="17.2" height="9.0" rx="3" fill="#a5a5a5"/>
<rect x="117.0" y="561.0" width="17.2" height="4.8" rx="2" fill="#6c6c6c"/>
<rect x="136.8" y="552.0" width="19.7" height="16.5" rx="1" fill="#e2e2e2"/>
<rect x="136.8" y="559.2" width="19.7" height="2.2" rx="1" fill="#b4b4b4"/>
<rect x="158.0" y="552.0" width="19.6" height="16.5" rx="1" fill="#e2e2e2"/>
<rect x="158.0" y="559.2" width="19.6" height="2.2" rx="1" fill="#b4b4b4"/>
<rect x="179.0" y="552.0" width="20.8" height="16.5" rx="1" fill="#e2e2e2"/>
<rect x="179.0" y="558.8" width="20.8" height="2.2" rx="1" fill="#afafaf"/>
</g></g>
<rect x="64.3" y="550.5" width="138.5" height="18.7" fill="none" stroke="#888" stroke-width="0.8"/>
<clipPath id="c14"><rect x="64.3" y="572" width="138.5" height="18.6"/></clipPath>
<g clip-path="url(#c14)"><rect x="64.3" y="572" width="138.5" height="18.6" fill="#dedede"/>
<g filter="url(#b55)">
<rect x="64.0" y="584.0" width="140.0" height="6.0" rx="0" fill="#cdcdcd"/>
<rect x="66.0" y="582.0" width="26.0" height="4.8" rx="2" fill="#080808"/>
<rect x="92.0" y="581.3" width="22.0" height="4.8" rx="2" fill="#080808"/>
<rect x="114.0" y="580.0" width="22.0" height="4.8" rx="2" fill="#050505"/>
<rect x="136.0" y="577.9" width="22.0" height="5.0" rx="2" fill="#030303"/>
<rect x="158.0" y="578.2" width="21.0" height="4.9" rx="2" fill="#030303"/>
<rect x="179.0" y="577.8" width="21.5" height="5.1" rx="2" fill="#030303"/>
</g></g>
<rect x="64.3" y="572" width="138.5" height="18.6" fill="none" stroke="#888" stroke-width="0.8"/>
<clipPath id="c15"><rect x="64.3" y="619.7" width="139.0" height="17.9"/></clipPath>
<g clip-path="url(#c15)"><rect x="64.3" y="619.7" width="139.0" height="17.9" fill="#b9b9b9"/>
<g filter="url(#b110)">
<rect x="71.3" y="620.3" width="20.7" height="17.0" rx="1" fill="#191919"/>
<rect x="74.3" y="620.0" width="14.7" height="5.5" rx="4" fill="#828282"/>
<rect x="73.3" y="630.5" width="16.7" height="7.5" rx="4" fill="#969696"/>
<rect x="94.0" y="620.3" width="20.0" height="17.0" rx="1" fill="#232323"/>
<rect x="97.0" y="620.0" width="14.0" height="5.0" rx="4" fill="#7d7d7d"/>
<rect x="96.0" y="630.5" width="16.0" height="7.5" rx="4" fill="#919191"/>
<rect x="116.4" y="620.3" width="18.8" height="17.0" rx="1" fill="#282828"/>
<rect x="119.4" y="620.0" width="12.8" height="5.0" rx="4" fill="#7d7d7d"/>
<rect x="118.4" y="630.5" width="14.8" height="7.5" rx="4" fill="#969696"/>
<rect x="137.0" y="620.3" width="19.5" height="17.0" rx="1" fill="#828282"/>
<rect x="140.0" y="620.0" width="13.5" height="5.0" rx="4" fill="#afafaf"/>
<rect x="139.0" y="631.0" width="15.5" height="7.0" rx="4" fill="#a5a5a5"/>
<rect x="158.2" y="620.3" width="19.4" height="17.0" rx="1" fill="#808080"/>
<rect x="161.2" y="620.0" width="13.4" height="5.0" rx="4" fill="#acacac"/>
<rect x="160.2" y="631.0" width="15.4" height="7.0" rx="4" fill="#a2a2a2"/>
<rect x="179.0" y="620.3" width="20.8" height="17.0" rx="1" fill="#808080"/>
<rect x="182.0" y="620.0" width="14.8" height="5.0" rx="4" fill="#acacac"/>
<rect x="181.0" y="631.0" width="16.8" height="7.0" rx="4" fill="#a5a5a5"/>
<rect x="184.0" y="626.0" width="10.8" height="5.0" rx="3" fill="#646464"/>
</g></g>
<rect x="64.3" y="619.7" width="139.0" height="17.9" fill="none" stroke="#888" stroke-width="0.8"/>
<clipPath id="c16"><rect x="64.3" y="642" width="139.0" height="17.2"/></clipPath>
<g clip-path="url(#c16)"><rect x="64.3" y="642" width="139.0" height="17.2" fill="#c8c8c8"/>
<g filter="url(#b80)">
<rect x="64.0" y="642.0" width="140.0" height="4.0" rx="0" fill="#bebebe"/>
<rect x="68.5" y="646.3" width="133.5" height="7.9" rx="3" fill="#030303"/>
</g></g>
<rect x="64.3" y="642" width="139.0" height="17.2" fill="none" stroke="#888" stroke-width="0.8"/>
<text x="213.9" y="379.5" font-size="9.74" font-weight="bold" class="pl">D</text>
<text x="299.2" y="380.2" font-size="9.63" text-anchor="middle" font-weight="bold" font-style="italic" textLength="66.2" lengthAdjust="spacingAndGlyphs">EWSR1::ATF1</text>
<text x="299.2" y="388.6" font-size="9.52" text-anchor="middle" textLength="46.5" lengthAdjust="spacingAndGlyphs" fill="#222">MP-CCS-SY</text>
<rect x="256.2" y="416.4" width="17.2" height="85.3" fill="#BEBEBE" stroke="#111" stroke-width="1.2"/>
<rect x="290.5" y="461.8" width="17.2" height="39.9" fill="#BEBEBE" stroke="#111" stroke-width="1.2"/>
<rect x="324.7" y="474.0" width="17.2" height="27.7" fill="#BEBEBE" stroke="#111" stroke-width="1.2"/>
<line x1="264.8" y1="407.1" x2="264.8" y2="424.4" stroke="#111" stroke-width="1.3"/>
<line x1="262.8" y1="407.1" x2="266.8" y2="407.1" stroke="#111" stroke-width="1.3"/>
<line x1="262.8" y1="424.4" x2="266.8" y2="424.4" stroke="#111" stroke-width="1.3"/>
<line x1="299.1" y1="445.9" x2="299.1" y2="476" stroke="#111" stroke-width="1.3"/>
<line x1="297.1" y1="445.9" x2="301.1" y2="445.9" stroke="#111" stroke-width="1.3"/>
<line x1="297.1" y1="476" x2="301.1" y2="476" stroke="#111" stroke-width="1.3"/>
<line x1="333.3" y1="460.3" x2="333.3" y2="486" stroke="#111" stroke-width="1.3"/>
<line x1="331.3" y1="460.3" x2="335.3" y2="460.3" stroke="#111" stroke-width="1.3"/>
<line x1="331.3" y1="486" x2="335.3" y2="486" stroke="#111" stroke-width="1.3"/>
<line x1="244.3" y1="390.5" x2="244.3" y2="502.3" stroke="#111" stroke-width="1.3"/>
<line x1="243.70000000000002" y1="501.7" x2="353" y2="501.7" stroke="#111" stroke-width="1.5"/>
<text x="241.70000000000002" y="505.8" font-size="9.63" text-anchor="end" textLength="13.1" lengthAdjust="spacingAndGlyphs">0.0</text>
<text x="241.70000000000002" y="488.7" font-size="9.63" text-anchor="end" textLength="13.1" lengthAdjust="spacingAndGlyphs">0.2</text>
<text x="241.70000000000002" y="471.7" font-size="9.63" text-anchor="end" textLength="13.1" lengthAdjust="spacingAndGlyphs">0.4</text>
<text x="241.70000000000002" y="454.6" font-size="9.63" text-anchor="end" textLength="13.1" lengthAdjust="spacingAndGlyphs">0.6</text>
<text x="241.70000000000002" y="437.6" font-size="9.63" text-anchor="end" textLength="13.1" lengthAdjust="spacingAndGlyphs">0.8</text>
<text x="241.70000000000002" y="420.5" font-size="9.63" text-anchor="end" textLength="13.1" lengthAdjust="spacingAndGlyphs">1.0</text>
<text x="241.70000000000002" y="403.4" font-size="9.63" text-anchor="end" textLength="13.1" lengthAdjust="spacingAndGlyphs">1.2</text>
<text x="265.3" y="510.6" font-size="8.13" text-anchor="middle">0</text>
<text x="299.6" y="510.6" font-size="8.13" text-anchor="middle">0.3</text>
<text x="333.8" y="510.6" font-size="8.13" text-anchor="middle">3</text>
<text x="303.8" y="518.9" font-size="8.56" text-anchor="middle" textLength="82.3" lengthAdjust="spacingAndGlyphs">Vorinostat (&#956;mol/L)</text>
<text x="226" y="446.1" font-size="9.3" text-anchor="middle" transform="rotate(-90 226 446.1)" textLength="82" lengthAdjust="spacingAndGlyphs">Relative expression</text>
<path d="M264.6,397.1 V394.5 H333.4 V455" stroke="#444" stroke-width="0.8" fill="none"/>
<text x="299.1" y="395.0" font-size="8.03" text-anchor="middle" font-weight="bold" class="ast">**</text>
<path d="M264.6,403.2 V400.9 H298.8 V441.2" stroke="#444" stroke-width="0.8" fill="none"/>
<text x="281.8" y="401.5" font-size="8.03" text-anchor="middle" font-weight="bold" class="ast">**</text>
<text x="443.7" y="380.2" font-size="9.63" text-anchor="middle" font-weight="bold" font-style="italic" textLength="66.2" lengthAdjust="spacingAndGlyphs">EWSR1::ATF1</text>
<text x="443.7" y="388.4" font-size="9.52" text-anchor="middle" textLength="37" lengthAdjust="spacingAndGlyphs" fill="#222">SU-CCS1</text>
<rect x="401.6" y="414.9" width="17.2" height="86.3" fill="#BEBEBE" stroke="#111" stroke-width="1.2"/>
<rect x="436.0" y="427.2" width="17.2" height="74.0" fill="#BEBEBE" stroke="#111" stroke-width="1.2"/>
<rect x="469.9" y="463.9" width="17.2" height="37.3" fill="#BEBEBE" stroke="#111" stroke-width="1.2"/>
<line x1="410.2" y1="404.6" x2="410.2" y2="425" stroke="#111" stroke-width="1.3"/>
<line x1="408.2" y1="404.6" x2="412.2" y2="404.6" stroke="#111" stroke-width="1.3"/>
<line x1="408.2" y1="425" x2="412.2" y2="425" stroke="#111" stroke-width="1.3"/>
<line x1="444.6" y1="420.6" x2="444.6" y2="433.8" stroke="#111" stroke-width="1.3"/>
<line x1="442.6" y1="420.6" x2="446.6" y2="420.6" stroke="#111" stroke-width="1.3"/>
<line x1="442.6" y1="433.8" x2="446.6" y2="433.8" stroke="#111" stroke-width="1.3"/>
<line x1="478.5" y1="460.6" x2="478.5" y2="466.8" stroke="#111" stroke-width="1.3"/>
<line x1="476.5" y1="460.6" x2="480.5" y2="460.6" stroke="#111" stroke-width="1.3"/>
<line x1="476.5" y1="466.8" x2="480.5" y2="466.8" stroke="#111" stroke-width="1.3"/>
<line x1="389.8" y1="390" x2="389.8" y2="501.8" stroke="#111" stroke-width="1.3"/>
<line x1="389.2" y1="501.2" x2="498.5" y2="501.2" stroke="#111" stroke-width="1.5"/>
<text x="387.2" y="505.3" font-size="9.63" text-anchor="end" textLength="13.1" lengthAdjust="spacingAndGlyphs">0.0</text>
<text x="387.2" y="488.2" font-size="9.63" text-anchor="end" textLength="13.1" lengthAdjust="spacingAndGlyphs">0.2</text>
<text x="387.2" y="471.1" font-size="9.63" text-anchor="end" textLength="13.1" lengthAdjust="spacingAndGlyphs">0.4</text>
<text x="387.2" y="454.1" font-size="9.63" text-anchor="end" textLength="13.1" lengthAdjust="spacingAndGlyphs">0.6</text>
<text x="387.2" y="437.0" font-size="9.63" text-anchor="end" textLength="13.1" lengthAdjust="spacingAndGlyphs">0.8</text>
<text x="387.2" y="419.9" font-size="9.63" text-anchor="end" textLength="13.1" lengthAdjust="spacingAndGlyphs">1.0</text>
<text x="387.2" y="402.8" font-size="9.63" text-anchor="end" textLength="13.1" lengthAdjust="spacingAndGlyphs">1.2</text>
<text x="410.7" y="509.9" font-size="8.13" text-anchor="middle">0</text>
<text x="445.1" y="509.9" font-size="8.13" text-anchor="middle">0.3</text>
<text x="479.0" y="509.9" font-size="8.13" text-anchor="middle">3</text>
<text x="447.9" y="517.7" font-size="8.56" text-anchor="middle" textLength="82.3" lengthAdjust="spacingAndGlyphs">Vorinostat (&#956;mol/L)</text>
<text x="371.5" y="445.6" font-size="9.3" text-anchor="middle" transform="rotate(-90 371.5 445.6)" textLength="82" lengthAdjust="spacingAndGlyphs">Relative expression</text>
<path d="M409.8,395.9 V393.6 H478.5 V458.5" stroke="#444" stroke-width="0.8" fill="none"/>
<text x="443" y="393.9" font-size="8.03" text-anchor="middle" font-weight="bold" class="ast">**</text>
<path d="M409.8,402 V399.8 H444.6 V418.5" stroke="#444" stroke-width="0.8" fill="none"/>
<text x="428" y="397.3" font-size="4.17" text-anchor="middle" fill="#223" class="ns">NS</text>
<text x="299" y="533.9" font-size="9.63" text-anchor="middle" font-weight="bold" font-style="italic" textLength="66.2" lengthAdjust="spacingAndGlyphs">EWSR1::ATF1</text>
<text x="299" y="541.9" font-size="9.52" text-anchor="middle" textLength="46" lengthAdjust="spacingAndGlyphs" fill="#222">Hewga-CCS</text>
<rect x="255.3" y="569.7" width="17.2" height="84.1" fill="#BEBEBE" stroke="#111" stroke-width="1.2"/>
<rect x="289.2" y="595.6" width="17.2" height="58.2" fill="#BEBEBE" stroke="#111" stroke-width="1.2"/>
<rect x="323.6" y="625.6" width="17.2" height="28.2" fill="#BEBEBE" stroke="#111" stroke-width="1.2"/>
<line x1="263.9" y1="561.8" x2="263.9" y2="575.5" stroke="#111" stroke-width="1.3"/>
<line x1="261.9" y1="561.8" x2="265.9" y2="561.8" stroke="#111" stroke-width="1.3"/>
<line x1="261.9" y1="575.5" x2="265.9" y2="575.5" stroke="#111" stroke-width="1.3"/>
<line x1="297.8" y1="589" x2="297.8" y2="602" stroke="#111" stroke-width="1.3"/>
<line x1="295.8" y1="589" x2="299.8" y2="589" stroke="#111" stroke-width="1.3"/>
<line x1="295.8" y1="602" x2="299.8" y2="602" stroke="#111" stroke-width="1.3"/>
<line x1="332.2" y1="620.4" x2="332.2" y2="630.5" stroke="#111" stroke-width="1.3"/>
<line x1="330.2" y1="620.4" x2="334.2" y2="620.4" stroke="#111" stroke-width="1.3"/>
<line x1="330.2" y1="630.5" x2="334.2" y2="630.5" stroke="#111" stroke-width="1.3"/>
<line x1="243.2" y1="544" x2="243.2" y2="654.4" stroke="#111" stroke-width="1.3"/>
<line x1="242.6" y1="653.8" x2="352" y2="653.8" stroke="#111" stroke-width="1.5"/>
<text x="240.6" y="657.9" font-size="9.63" text-anchor="end" textLength="13.1" lengthAdjust="spacingAndGlyphs">0.0</text>
<text x="240.6" y="641.0" font-size="9.63" text-anchor="end" textLength="13.1" lengthAdjust="spacingAndGlyphs">0.2</text>
<text x="240.6" y="624.1" font-size="9.63" text-anchor="end" textLength="13.1" lengthAdjust="spacingAndGlyphs">0.4</text>
<text x="240.6" y="607.3" font-size="9.63" text-anchor="end" textLength="13.1" lengthAdjust="spacingAndGlyphs">0.6</text>
<text x="240.6" y="590.4" font-size="9.63" text-anchor="end" textLength="13.1" lengthAdjust="spacingAndGlyphs">0.8</text>
<text x="240.6" y="573.5" font-size="9.63" text-anchor="end" textLength="13.1" lengthAdjust="spacingAndGlyphs">1.0</text>
<text x="240.6" y="556.6" font-size="9.63" text-anchor="end" textLength="13.1" lengthAdjust="spacingAndGlyphs">1.2</text>
<text x="264.4" y="665.3" font-size="8.13" text-anchor="middle">0</text>
<text x="298.3" y="665.3" font-size="8.13" text-anchor="middle">0.3</text>
<text x="332.7" y="665.3" font-size="8.13" text-anchor="middle">3</text>
<text x="298.2" y="675.3" font-size="8.56" text-anchor="middle" textLength="82.3" lengthAdjust="spacingAndGlyphs">Vorinostat (&#956;mol/L)</text>
<text x="225" y="598.9" font-size="9.3" text-anchor="middle" transform="rotate(-90 225 598.9)" textLength="82" lengthAdjust="spacingAndGlyphs">Relative expression</text>
<path d="M263.9,549.8 V547.4 H332.4 V615" stroke="#444" stroke-width="0.8" fill="none"/>
<text x="298" y="548.2" font-size="8.03" text-anchor="middle" font-weight="bold" class="ast">**</text>
<path d="M263.9,556.2 V553.8 H297.6 V585" stroke="#444" stroke-width="0.8" fill="none"/>
<text x="281" y="554.4" font-size="8.03" text-anchor="middle" font-weight="bold" class="ast">**</text>
<text x="446.8" y="533.9" font-size="9.63" text-anchor="middle" font-weight="bold" font-style="italic" textLength="66.2" lengthAdjust="spacingAndGlyphs">EWSR1::ATF1</text>
<text x="446.8" y="542.4" font-size="9.52" text-anchor="middle" textLength="17" lengthAdjust="spacingAndGlyphs" fill="#222">KAS</text>
<rect x="402.1" y="570.4" width="17.2" height="85.4" fill="#BEBEBE" stroke="#111" stroke-width="1.2"/>
<rect x="436.4" y="572.7" width="17.2" height="83.1" fill="#BEBEBE" stroke="#111" stroke-width="1.2"/>
<rect x="470.6" y="611.6" width="17.2" height="44.2" fill="#BEBEBE" stroke="#111" stroke-width="1.2"/>
<line x1="410.7" y1="560" x2="410.7" y2="579.5" stroke="#111" stroke-width="1.3"/>
<line x1="408.7" y1="560" x2="412.7" y2="560" stroke="#111" stroke-width="1.3"/>
<line x1="408.7" y1="579.5" x2="412.7" y2="579.5" stroke="#111" stroke-width="1.3"/>
<line x1="445" y1="565" x2="445" y2="578.6" stroke="#111" stroke-width="1.3"/>
<line x1="443" y1="565" x2="447" y2="565" stroke="#111" stroke-width="1.3"/>
<line x1="443" y1="578.6" x2="447" y2="578.6" stroke="#111" stroke-width="1.3"/>
<line x1="479.2" y1="607.8" x2="479.2" y2="614.3" stroke="#111" stroke-width="1.3"/>
<line x1="477.2" y1="607.8" x2="481.2" y2="607.8" stroke="#111" stroke-width="1.3"/>
<line x1="477.2" y1="614.3" x2="481.2" y2="614.3" stroke="#111" stroke-width="1.3"/>
<line x1="390.8" y1="545.7" x2="390.8" y2="656.4" stroke="#111" stroke-width="1.3"/>
<line x1="390.2" y1="655.8" x2="500.5" y2="655.8" stroke="#111" stroke-width="1.5"/>
<text x="388.2" y="659.9" font-size="9.63" text-anchor="end" textLength="13.1" lengthAdjust="spacingAndGlyphs">0.0</text>
<text x="388.2" y="643.0" font-size="9.63" text-anchor="end" textLength="13.1" lengthAdjust="spacingAndGlyphs">0.2</text>
<text x="388.2" y="626.1" font-size="9.63" text-anchor="end" textLength="13.1" lengthAdjust="spacingAndGlyphs">0.4</text>
<text x="388.2" y="609.1" font-size="9.63" text-anchor="end" textLength="13.1" lengthAdjust="spacingAndGlyphs">0.6</text>
<text x="388.2" y="592.2" font-size="9.63" text-anchor="end" textLength="13.1" lengthAdjust="spacingAndGlyphs">0.8</text>
<text x="388.2" y="575.3" font-size="9.63" text-anchor="end" textLength="13.1" lengthAdjust="spacingAndGlyphs">1.0</text>
<text x="388.2" y="558.4" font-size="9.63" text-anchor="end" textLength="13.1" lengthAdjust="spacingAndGlyphs">1.2</text>
<text x="411.2" y="665.3" font-size="8.13" text-anchor="middle">0</text>
<text x="445.5" y="665.3" font-size="8.13" text-anchor="middle">0.3</text>
<text x="479.7" y="665.3" font-size="8.13" text-anchor="middle">3</text>
<text x="448.1" y="675.0" font-size="8.56" text-anchor="middle" textLength="82.3" lengthAdjust="spacingAndGlyphs">Vorinostat (&#956;mol/L)</text>
<text x="372" y="600.8" font-size="9.3" text-anchor="middle" transform="rotate(-90 372 600.8)" textLength="82" lengthAdjust="spacingAndGlyphs">Relative expression</text>
<path d="M410.8,552 V549.6 H478.5 V604.8" stroke="#444" stroke-width="0.8" fill="none"/>
<text x="444.6" y="550.7" font-size="8.03" text-anchor="middle" font-weight="bold" class="ast">*</text>
<path d="M410.8,557 V554.8 H445.2 V561" stroke="#444" stroke-width="0.8" fill="none"/>
<text x="428.3" y="553.9" font-size="4.17" text-anchor="middle" fill="#223" class="ns">NS</text>
</svg></body></html>
